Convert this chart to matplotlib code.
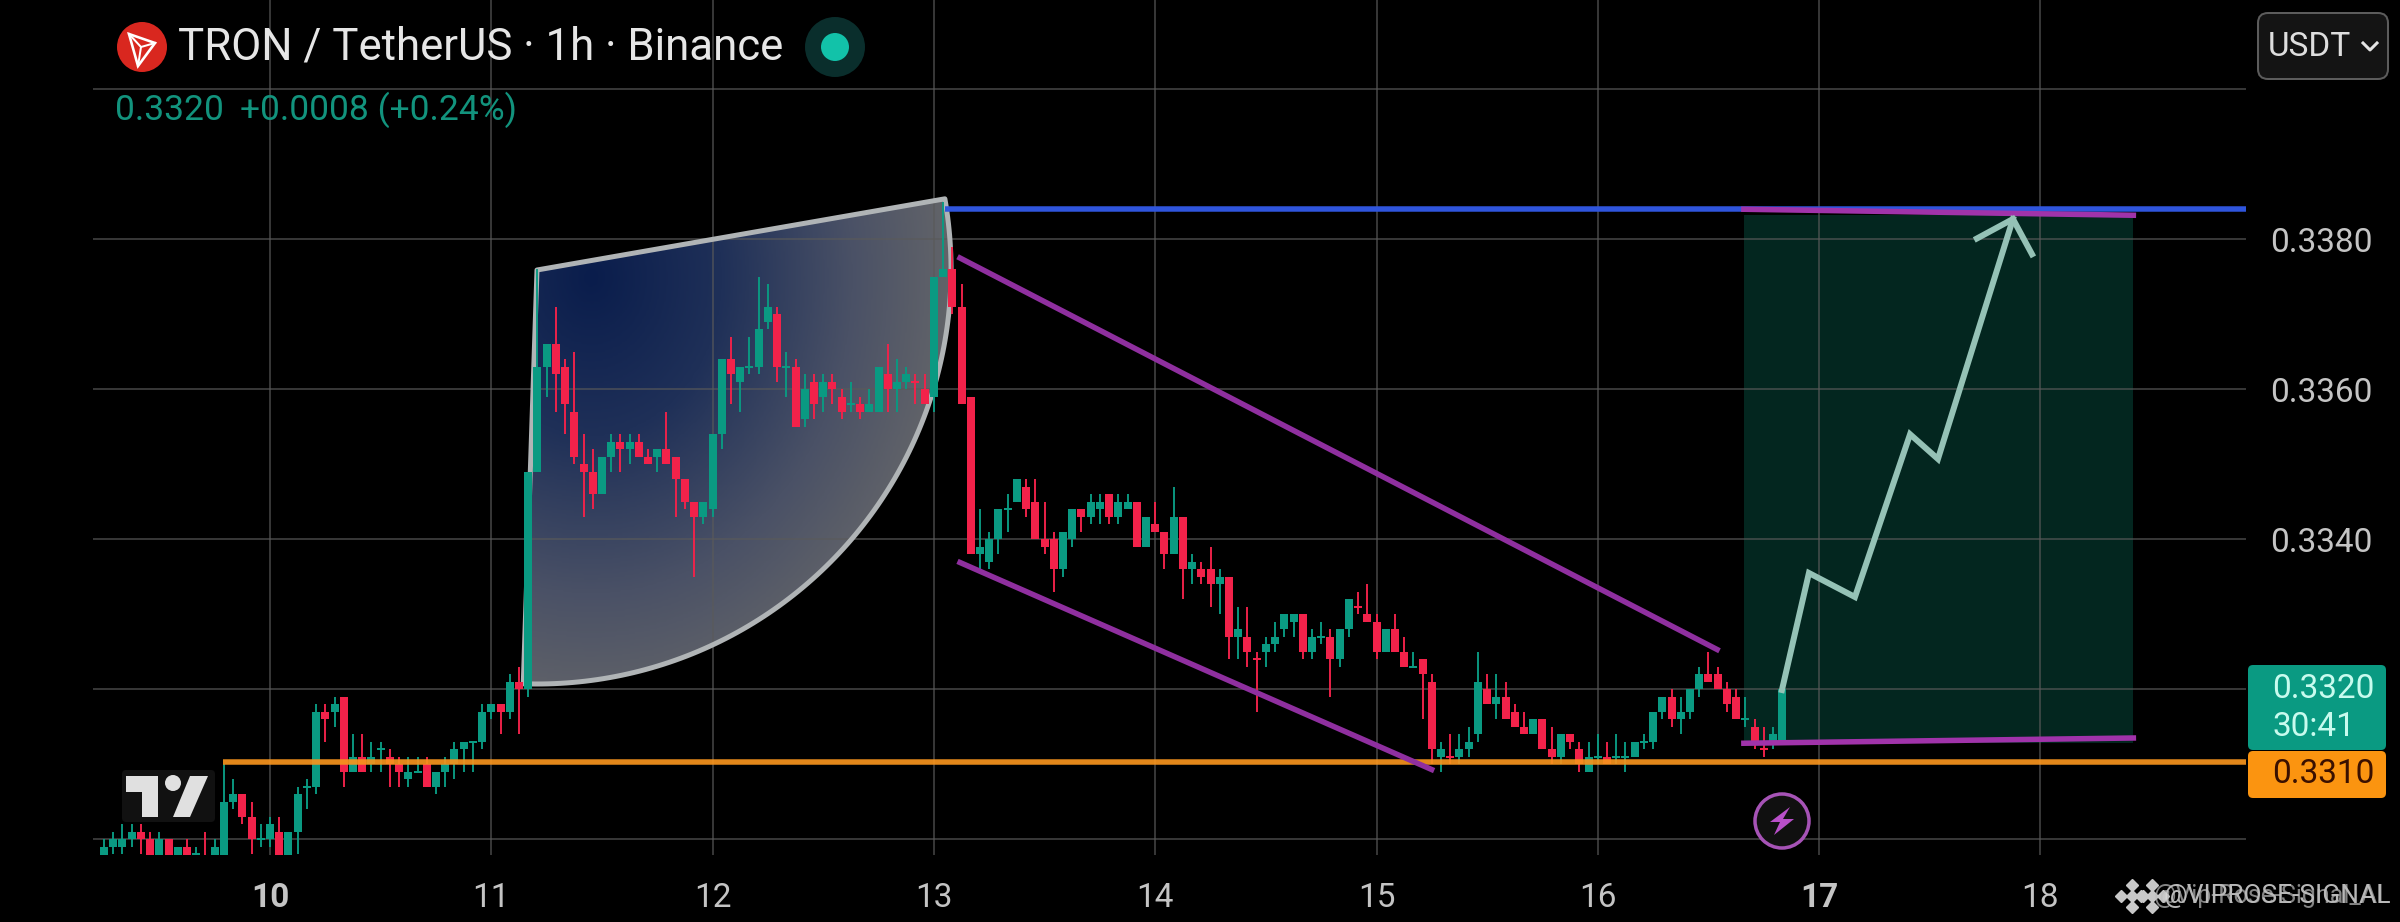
import numpy as np
import matplotlib
matplotlib.use('Agg')
import matplotlib.pyplot as plt
from matplotlib.colors import LinearSegmentedColormap
from matplotlib.patches import Circle, FancyBboxPatch, Polygon

plt.rcParams['font.family'] = ['Roboto', 'DejaVu Sans']

# Hourly candles, prices in units of 0.0001
opens = [3297,3299,3299,3300,3301,3300,3297,3300,3297,3299,
         3298,3297,3297,3297,3305,3306,3303,3300,3300,3301,
         3297,3301,3307,3307,3317,3317,3319,3309,3311,3310,
         3312,3311,3310,3308,3309,3310,3307,3309,3310,3312,
         3313,3313,3317,3318,3317,3321,3320,3349,3363,3366,
         3363,3357,3350,3349,3346,3351,3353,3352,3353,3351,
         3351,3352,3351,3348,3345,3343,3344,3354,3364,3361,
         3363,3363,3369,3370,3363,3363,3356,3361,3359,3361,
         3359,3358,3358,3357,3357,3362,3360,3361,3361,3360,
         3359,3375,3376,3371,3359,3338,3337,3340,3344,3345,
         3347,3345,3340,3340,3336,3340,3344,3343,3344,3346,
         3343,3344,3345,3339,3342,3341,3338,3343,3336,3336,
         3336,3334,3335,3327,3327,3324,3325,3326,3328,3329,
         3330,3325,3327,3327,3324,3328,3331,3330,3329,3325,
         3328,3325,3323,3324,3321,3311,3311,3311,3312,3314,
         3320,3318,3319,3317,3315,3314,3316,3312,3311,3314,
         3312,3309,3311,3311,3311,3311,3311,3313,3313,3317,
         3319,3316,3317,3320,3322,3322,3320,3319,3316,3315,
         3312,3313,3313]
highs = [3300,3301,3302,3302,3302,3301,3301,3300,3299,3300,
         3299,3301,3300,3310,3308,3306,3305,3302,3303,3303,
         3301,3307,3308,3318,3318,3319,3319,3314,3314,3313,
         3313,3312,3311,3311,3311,3311,3309,3311,3313,3313,
         3313,3318,3318,3318,3322,3323,3349,3376,3366,3371,
         3364,3365,3354,3352,3351,3354,3354,3354,3354,3352,
         3352,3357,3351,3348,3345,3345,3354,3364,3367,3363,
         3367,3375,3374,3371,3365,3364,3362,3362,3362,3362,
         3360,3361,3359,3360,3363,3366,3364,3363,3362,3362,
         3375,3385,3379,3374,3359,3344,3341,3344,3346,3348,
         3348,3348,3345,3341,3341,3344,3344,3346,3346,3346,
         3346,3346,3345,3343,3345,3341,3347,3343,3338,3337,
         3339,3336,3335,3331,3331,3325,3327,3329,3330,3330,
         3330,3328,3329,3328,3328,3332,3333,3334,3330,3328,
         3330,3327,3325,3324,3322,3313,3314,3314,3315,3325,
         3322,3322,3321,3318,3317,3316,3316,3315,3314,3314,
         3313,3313,3314,3313,3314,3313,3313,3314,3317,3319,
         3320,3319,3320,3323,3325,3323,3321,3320,3319,3316,
         3315,3315,3320]
lows = [3297,3298,3298,3299,3298,3297,3297,3297,3297,3297,
        3297,3296,3297,3297,3304,3302,3298,3299,3299,3297,
        3297,3298,3304,3306,3313,3315,3307,3309,3309,3309,
        3309,3307,3307,3307,3309,3307,3306,3307,3308,3309,
        3309,3312,3316,3314,3316,3314,3319,3349,3359,3357,
        3354,3350,3343,3344,3346,3349,3349,3350,3351,3350,
        3349,3350,3343,3344,3335,3342,3343,3352,3358,3357,
        3362,3362,3368,3361,3359,3355,3355,3356,3357,3358,
        3356,3357,3356,3357,3357,3357,3357,3360,3358,3358,
        3357,3375,3370,3358,3338,3336,3336,3338,3341,3345,
        3343,3340,3338,3333,3335,3339,3341,3342,3342,3342,
        3342,3344,3339,3339,3341,3336,3338,3332,3334,3334,
        3331,3330,3324,3324,3323,3317,3323,3325,3327,3327,
        3324,3324,3326,3319,3323,3327,3330,3329,3324,3325,
        3325,3323,3323,3316,3310,3309,3310,3310,3311,3313,
        3318,3316,3316,3315,3314,3314,3312,3310,3310,3312,
        3309,3309,3310,3310,3310,3309,3311,3312,3312,3316,
        3315,3314,3316,3319,3321,3320,3317,3316,3315,3312,
        3311,3312,3313]
closes = [3299,3300,3300,3301,3300,3297,3300,3297,3299,3297,
          3298,3297,3299,3305,3306,3303,3300,3300,3302,3297,
          3301,3306,3307,3317,3316,3318,3309,3311,3309,3311,
          3312,3310,3309,3309,3309,3307,3309,3310,3312,3313,
          3313,3317,3318,3317,3321,3320,3349,3363,3366,3362,
          3358,3351,3349,3346,3351,3353,3352,3353,3351,3350,
          3352,3350,3348,3345,3343,3345,3354,3364,3362,3363,
          3363,3368,3371,3363,3363,3355,3360,3358,3361,3360,
          3357,3358,3357,3358,3363,3360,3361,3362,3361,3358,
          3375,3376,3371,3358,3338,3339,3340,3344,3344,3348,
          3344,3340,3339,3336,3341,3344,3343,3345,3345,3343,
          3345,3345,3339,3343,3341,3338,3343,3336,3337,3335,
          3334,3335,3327,3328,3325,3324,3326,3327,3330,3330,
          3325,3327,3327,3324,3328,3332,3331,3329,3325,3328,
          3325,3323,3323,3322,3312,3312,3311,3312,3313,3321,
          3318,3319,3316,3315,3314,3316,3312,3311,3314,3313,
          3310,3311,3311,3310,3311,3311,3313,3313,3317,3319,
          3316,3317,3320,3322,3321,3320,3318,3316,3316,3313,
          3312,3314,3320]
# flat candles that are drawn red
doji_down = [11, 88, 125, 136, 146, 180]

day_ticks = [10, 11, 12, 13, 14, 15, 16, 17, 18]
bold_days = [10, 17]
price_grid = [0.3300, 0.3320, 0.3340, 0.3360, 0.3380, 0.3400]
price_labels = ['', '', '0.3340', '0.3360', '0.3380', '']

# Drawings on the chart, (day, price)
support_price = 0.33103
resistance_price = 0.3384
channel_upper = ([13.118, 16.539], [0.33775, 0.33253])
channel_lower = ([13.118, 15.249], [0.33369, 0.33093])
target_top = ([16.66, 18.42], [0.3384, 0.33832])
target_bottom = ([16.66, 18.42], [0.33128, 0.33135])
path_days = [16.832, 16.954, 17.162, 17.411, 17.537, 17.876]
path_prices = [0.33199, 0.33355, 0.33323, 0.3354, 0.33507, 0.33827]
head_days = [17.713, 17.876, 17.962]
head_prices = [0.33801, 0.33827, 0.3378]

GREEN = '#0a9a82'
RED = '#f2224a'
PX = 72 / 100  # one pixel in points at dpi 100

fig = plt.figure(figsize=(24, 9.22), dpi=100, facecolor='black')
ax = fig.add_axes([93 / 2400, 1 - 855 / 922, (2246 - 93) / 2400, 855 / 922])
ax.set_facecolor('black')

o = np.array(opens) / 1e4
h = np.array(highs) / 1e4
l = np.array(lows) / 1e4
c = np.array(closes) / 1e4
days = 10 + (np.arange(len(o)) - 18) / 24
up = c >= o
up[doji_down] = False
colors = np.where(up, GREEN, RED)

# fan shape with gradient
fan_day, fan_price = 11.2065, 0.33759
rx, ry = 1.871, 0.00552
ang = np.radians(np.linspace(-9.9, 91.9, 120))
fan_x = np.r_[fan_day, fan_day + rx * np.cos(ang)]
fan_y = np.r_[fan_price, fan_price - ry * np.sin(ang)]
gx, gy = np.meshgrid(np.linspace(11.0, 13.2, 200), np.linspace(0.3315, 0.3390, 200))
grad = np.sqrt(((gx - 11.45) / rx / 0.95) ** 2 + ((gy - 0.3375) / ry / 1.15) ** 2)
cmap = LinearSegmentedColormap.from_list('fan', ['#0a1d4c', '#1f3058', '#4a5166', '#6a6a6a'])
im = ax.imshow(np.clip(grad, 0, 1), extent=[11.0, 13.2, 0.3315, 0.3390], origin='lower',
               cmap=cmap, vmin=0, vmax=1, aspect='auto', zorder=1)
fan = Polygon(np.c_[fan_x, fan_y], closed=True, fc='none', ec='#b0b4b6', lw=5 * PX, zorder=2.8, joinstyle='round')
ax.add_patch(fan)
im.set_clip_path(fan)
ax.set_xlim(9.2002, 18.929)
ax.set_ylim(0.32979, 0.34119)

# long position box
ax.fill_between(target_top[0], [target_bottom[1][0]] * 2, [target_top[1][1]] * 2, color='#03261f', lw=0, zorder=1)

ax.set_xticks(day_ticks)
ax.set_yticks(price_grid)
ax.set_yticklabels(price_labels)
ax.yaxis.tick_right()
ax.grid(True, color='#5a5a5a', lw=1.5 * PX, alpha=0.8)
ax.set_axisbelow(False)
ax.tick_params(axis='both', length=0, colors='#c4c4c4', labelsize=24)
ax.tick_params(axis='x', pad=27 * PX)
ax.tick_params(axis='y', pad=24 * PX)
for lab, d in zip(ax.get_xticklabels(), day_ticks):
    if d in bold_days:
        lab.set_fontweight('bold')
for lab in ax.get_yticklabels():
    lab.set_verticalalignment('center_baseline')
for s in ax.spines.values():
    s.set_visible(False)

# candles
ax.vlines(days, l, h, colors=colors, lw=1.9 * PX, zorder=3)
body = np.maximum(np.abs(c - o), 0.00003)
ax.bar(days, body, bottom=np.minimum(o, c) - (c == o) * 0.000015, width=8 / 221.3, color=colors, lw=0, zorder=3.1)

# lines
ax.plot([13.05, 18.929], [resistance_price] * 2, color='#2f55dc', lw=5.5 * PX, zorder=3.2, solid_capstyle='butt')
ax.plot([9.788, 18.929], [support_price] * 2, color='#f7941d', lw=5.5 * PX, alpha=0.92, zorder=3.3, solid_capstyle='butt')
for line in (channel_upper, channel_lower):
    ax.plot(line[0], line[1], color='#8f2f9f', lw=5.5 * PX, zorder=3.4)
for line in (target_top, target_bottom):
    ax.plot(line[0], line[1], color='#a033aa', lw=5.5 * PX, zorder=3.5)
ax.plot(path_days, path_prices, color='#95c2b6', lw=6 * PX, zorder=3.6, solid_joinstyle='miter')
ax.plot(head_days, head_prices, color='#95c2b6', lw=6 * PX, zorder=3.6, solid_joinstyle='miter')

# screen furniture, in pixel coordinates
ov = fig.add_axes([0, 0, 1, 1])
ov.set_xlim(0, 2400)
ov.set_ylim(922, 0)
ov.axis('off')

# coin icon
ov.add_patch(Circle((142, 47), 25, fc='#d9271f', ec='none'))
ov.add_patch(Polygon([(129, 34), (155, 43), (138, 66)], closed=True, fc='none', ec='white', lw=2.6 * PX))
ov.plot([129, 141, 138], [34, 47, 66], color='white', lw=2 * PX)
ov.plot([141, 155], [47, 43], color='white', lw=2 * PX)
ov.text(178, 48, 'TRON / TetherUS · 1h · Binance', color='#e6e6e6', fontsize=31.5, va='center', ha='left')
ov.add_patch(Circle((835, 47), 30, fc='#0a2e2c', ec='none'))
ov.add_patch(Circle((835, 47), 14, fc='#12c2a9', ec='none'))
ov.text(115, 110, '0.3320', color='#12937d', fontsize=25.5, va='center', ha='left')
ov.text(240, 110, '+0.0008 (+0.24%)', color='#12937d', fontsize=25.5, va='center', ha='left')

# currency button
ov.add_patch(FancyBboxPatch((2258, 13), 130, 66, boxstyle='round,pad=0,rounding_size=10',
                            fc='#141414', ec='#5c5c5c', lw=2 * PX))
ov.text(2268, 47, 'USDT', color='#dedede', fontsize=24, va='center', ha='left')
ov.plot([2363, 2370, 2377], [43, 50, 43], color='#e4e4e4', lw=3 * PX)

# price labels
ov.add_patch(FancyBboxPatch((2248, 665), 138, 85, boxstyle='round,pad=0,rounding_size=5', fc='#0a9a82', ec='none'))
ov.add_patch(FancyBboxPatch((2248, 751), 138, 47, boxstyle='round,pad=0,rounding_size=5', fc='#fb9410', ec='none'))
ov.text(2272, 689, '0.3320', color='#c8fbee', fontsize=24, va='center', ha='left')
ov.text(2272, 727, '30:41', color='#c8fbee', fontsize=24, va='center', ha='left')
ov.text(2272, 774, '0.3310', color='#3a1000', fontsize=24, va='center', ha='left')

# exchange logo
ov.add_patch(FancyBboxPatch((122, 770), 93, 52, boxstyle='round,pad=0,rounding_size=4', fc='#111111', ec='none'))
ov.add_patch(Polygon([(126, 776), (158, 776), (158, 817), (142, 817), (142, 792), (126, 792)], closed=True, fc='#e0e0e0', ec='none'))
ov.add_patch(Circle((173, 783), 8, fc='#e0e0e0', ec='none'))
ov.add_patch(Polygon([(190, 776), (208, 776), (190, 817), (173, 817)], closed=True, fc='#e0e0e0', ec='none'))

# alert icon
ov.add_patch(Circle((1782, 821), 27, fc='#101010', ec='#a653b6', lw=3.5 * PX))
ov.add_patch(Polygon([(1790, 807), (1770, 822), (1780, 822), (1774, 835), (1794, 819), (1783, 819)],
                     closed=True, fc='#b94fc9', ec='none'))

# watermark
for cx in (2132, 2152):
    ov.plot([cx, cx - 11, cx + 11, cx, cx], [896, 896, 896, 885, 907], ls='none', marker='D', ms=6, color='#c8c8c8')
ov.text(2391, 896, '@VIPROSE-SIGNAL', color='#d8d8d8', fontsize=19, va='center', ha='right', alpha=0.85)
ov.text(2391, 896, '@Vip-Rose-Signal_AL', color='#bdbdbd', fontsize=18, va='center', ha='right', alpha=0.7)

fig.savefig('out.png', dpi=100, facecolor='black')
